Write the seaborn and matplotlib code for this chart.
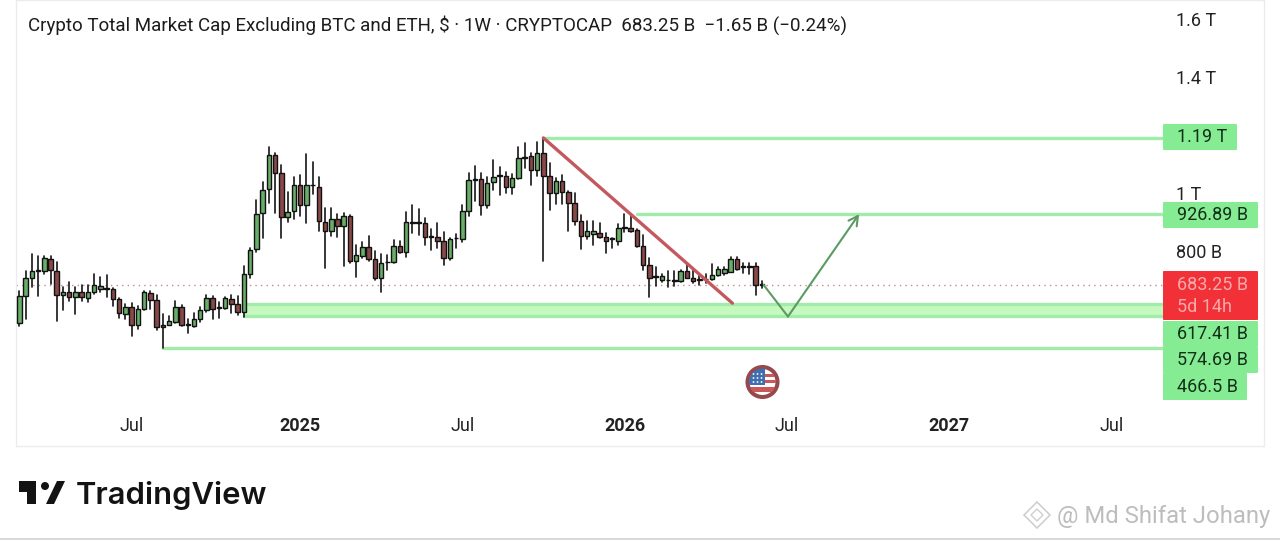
import pandas as pd
import matplotlib.pyplot as plt
from matplotlib.patches import Circle, Ellipse, FancyBboxPatch, Polygon, Rectangle
import seaborn as sns

# Weekly candles, values in billions of USD
opens = [553, 645, 708, 730, 730, 771, 731, 647, 657, 642, 657, 639, 659, 668, 672, 668, 634, 584, 607, 544,
         599, 654, 630, 545, 546, 556, 608, 545, 543, 564, 598, 637, 605, 605, 636, 617, 591, 721, 807, 930,
         1015, 1130, 1070, 918, 937, 1026, 960, 1026, 1022, 901, 870, 910, 885, 921, 767, 783, 813, 771, 708, 761,
         762, 816, 798, 900, 900, 896, 850, 849, 836, 775, 844, 842, 937, 1048, 1047, 960, 1037, 1061, 1060, 1022,
         1050, 1125, 1127, 1081, 1139, 1060, 999, 1040, 1003, 964, 904, 850, 860, 861, 848, 841, 834, 879, 878, 872,
         818, 751, 713, 700, 701, 700, 695, 731, 708, 703, 702, 703, 716, 725, 729, 772, 748, 746, 747, 684.9]
closes = [645, 706, 730, 733, 776, 733, 647, 660, 642, 659, 640, 657, 682, 679, 670, 633, 585, 607, 544, 600,
          657, 631, 539, 539, 559, 606, 544, 547, 564, 598, 637, 601, 607, 637, 618, 591, 719, 805, 926, 1012,
          1130, 1070, 918, 935, 1026, 960, 1026, 1027, 903, 870, 909, 885, 921, 765, 785, 813, 772, 708, 757, 763,
          816, 796, 901, 895, 898, 849, 848, 836, 777, 841, 846, 937, 1044, 1046, 960, 1034, 1056, 1058, 1022, 1050,
          1119, 1120, 1081, 1139, 1060, 999, 1041, 1003, 964, 904, 850, 870, 870, 848, 834, 844, 879, 882, 869, 817,
          752, 708, 710, 713, 699, 698, 731, 708, 698, 701, 705, 716, 737, 738, 772, 739, 746, 748, 684, 683.25]
highs = [662, 731, 788, 783, 783, 783, 763, 675, 693, 677, 682, 683, 721, 711, 717, 672, 638, 617, 620, 610,
         661, 661, 649, 582, 576, 626, 613, 566, 586, 608, 649, 645, 624, 642, 647, 645, 747, 811, 975, 1037,
         1160, 1137, 1096, 1004, 1054, 1062, 1134, 1106, 1055, 947, 948, 927, 932, 924, 819, 832, 852, 801, 790, 786,
         838, 834, 933, 957, 945, 913, 875, 898, 865, 846, 858, 958, 1068, 1093, 1070, 1056, 1114, 1091, 1073, 1065,
         1160, 1171, 1137, 1177, 1190, 1104, 1050, 1062, 1007, 1001, 923, 903, 904, 896, 863, 846, 892, 927, 924, 877,
         855, 775, 744, 721, 731, 732, 733, 756, 737, 715, 722, 754, 746, 746, 780, 779, 760, 760, 760, 696]
lows = [543, 565, 677, 646, 721, 686, 560, 595, 628, 584, 629, 625, 652, 659, 641, 611, 570, 564, 508, 530,
        598, 601, 528, 466.5, 544, 551, 543, 516, 539, 555, 591, 565, 570, 600, 585, 579, 574, 706, 798, 846,
        964, 931, 844, 899, 910, 921, 896, 998, 870, 742, 852, 849, 749, 760, 711, 777, 767, 700, 659, 734,
        760, 792, 780, 863, 855, 821, 803, 810, 753, 769, 809, 832, 922, 971, 923, 949, 1010, 992, 999, 996,
        1047, 1085, 1027, 1058, 767, 941, 962, 962, 870, 890, 807, 841, 821, 846, 794, 810, 819, 864, 867, 813,
        734, 642, 679, 694, 677, 679, 693, 706, 691, 683, 691, 700, 715, 717, 726, 733, 723, 721, 648, 673]

first_week = "2024-02-26"
tick_dates = ["2024-07-01", "2025-01-06", "2025-07-07", "2026-01-05", "2026-07-06", "2027-01-04", "2027-07-05"]
tick_labels = ["Jul", "2025", "Jul", "2026", "Jul", "2027", "Jul"]
price_ticks = [800, 1000, 1400, 1600]
price_labels = ["800 B", "1 T", "1.4 T", "1.6 T"]

last_price = 683.25
resistance_high = 1190
resistance_low = 926.89
zone_top = 617.41
zone_bottom = 574.69
support_low = 466.5

# Drawn trendline and the forecast path (week index, price)
trend_weeks = [84, 114.3]
trend_prices = [1190, 620]
path_weeks = [119.3, 123.2, 134.6]
path_prices = [683, 574, 927]

tag_labels = ["1.19 T", "926.89 B", "617.41 B", "574.69 B", "466.5 B"]
title = "Crypto Total Market Cap Excluding BTC and ETH, $ · 1W · CRYPTOCAP  683.25 B  −1.65 B (−0.24%)"

GREEN = "#86ec94"
LINE_GREEN = "#a0eca8"
ZONE_GREEN = "#c6f9bf"
TAG_RIGHT = 183.6  # week index where the price tags start

sns.set_theme(style="white")
plt.rcParams["font.family"] = ["Roboto", "DejaVu Sans"]

df = pd.DataFrame({"open": opens, "close": closes, "high": highs, "low": lows})
df["week"] = range(len(df))
df["bottom"] = df[["open", "close"]].min(axis=1)
df["height"] = (df["open"] - df["close"]).abs()
df["up"] = df["close"] >= df["open"]
wicks = df.melt(id_vars="week", value_vars=["high", "low"], value_name="price")

fig = plt.figure(figsize=(12.8, 5.4), dpi=100, facecolor="white")
ax = fig.add_axes([16 / 1280, 94 / 540, 1248 / 1280, 446 / 540])


def fx(x):
    return x / 1280


def fy(y):
    return 1 - y / 540


# Levels and zone
sns.lineplot(x=[-0.5, TAG_RIGHT], y=[last_price, last_price], color="#b98f8f", linewidth=1, linestyle=(0, (1, 3)), ax=ax)
ax.fill_between([36, TAG_RIGHT], zone_bottom, zone_top, color=ZONE_GREEN, linewidth=0, zorder=1)
level_lines = [(84, resistance_high), (99, resistance_low), (36, zone_top), (36, zone_bottom), (23, support_low)]
for start, level in level_lines:
    sns.lineplot(x=[start, TAG_RIGHT], y=[level, level], color=LINE_GREEN, linewidth=2.4, ax=ax)

# Candles
sns.lineplot(data=wicks, x="week", y="price", units="week", estimator=None, color="#151515", linewidth=1.2, zorder=3, ax=ax)
for is_up, face in [(True, "#68ad68"), (False, "#8a4848")]:
    part = df[df["up"] == is_up]
    sns.barplot(x=part["week"].values, y=part["height"].values, bottom=part["bottom"].values, native_scale=True,
                color=face, saturation=1, width=0.72, edgecolor="#111111", linewidth=1, errorbar=None, zorder=4, ax=ax)

# Trendline and forecast
sns.lineplot(x=trend_weeks, y=trend_prices, color="#c4585f", linewidth=2.4, zorder=5, ax=ax)
sns.lineplot(x=path_weeks[:2], y=path_prices[:2], color="#5c9a63", linewidth=1.5, zorder=5, ax=ax)
ax.annotate("", xy=(path_weeks[2], path_prices[2]), xytext=(path_weeks[1], path_prices[1]), zorder=5,
            arrowprops=dict(arrowstyle="->,head_length=0.55,head_width=0.3", color="#5c9a63", lw=1.5, shrinkA=0, shrinkB=0))

# Axes, with tick labels drawn inside the pane
ax.set_xlim(-0.53, 199.5)
ax.set_ylim(127.6, 1665.5)
ax.set_xlabel("")
ax.set_ylabel("")
week_ticks = [(pd.Timestamp(d) - pd.Timestamp(first_week)).days / 7 for d in tick_dates]
ax.set_xticks(week_ticks, tick_labels)
ax.yaxis.tick_right()
ax.set_yticks(price_ticks, price_labels)
ax.tick_params(axis="x", length=0, pad=-21, labelsize=13, labelcolor="#222222")
ax.tick_params(axis="y", length=0, pad=-63.5, labelsize=13, labelcolor="#222222")
for label in ax.get_xticklabels():
    if label.get_text().isdigit():
        label.set_fontweight("bold")
for spine in ax.spines.values():
    spine.set_color("#ececec")
    spine.set_linewidth(1)

ax.text(12 / 1248, 1 - 25 / 446, title, transform=ax.transAxes, fontsize=13.5, color="#1c1c1c", va="center", ha="left")


# Price tags on the right
def add_tag(x0, y0, x1, y1, color):
    fig.add_artist(FancyBboxPatch((fx(x0) + 0.001, fy(y1) + 0.001), fx(x1 - x0) - 0.002, (y1 - y0) / 540 - 0.002,
                                  boxstyle="round,pad=0.001", transform=fig.transFigure, facecolor=color, edgecolor="none"))


tag_boxes = [(1163, 124, 1237, 150), (1163, 202, 1258, 228), (1163, 321, 1258, 347), (1163, 347, 1258, 373), (1163, 373, 1247, 400)]
for box, text in zip(tag_boxes, tag_labels):
    add_tag(*box, GREEN)
    fig.text(fx(1177), fy((box[1] + box[3]) / 2), text, fontsize=13, color="#123018", va="center", ha="left")
add_tag(1163, 271, 1258, 320, "#f23038")
fig.text(fx(1177), fy(285), f"{last_price} B", fontsize=13, color="#f8aaaa", va="center", ha="left")
fig.text(fx(1177), fy(307), "5d 14h", fontsize=13, color="#f8aaaa", va="center", ha="left")

# Flag badge
flag = fig.add_axes([744.5 / 1280, 1 - 400 / 540, 36 / 1280, 36 / 540], facecolor="none")
flag.set_xlim(-18, 18)
flag.set_ylim(-18, 18)
flag.axis("off")
disc = Circle((0, 0), 13.5, facecolor="white", edgecolor="none")
flag.add_patch(disc)
flag.add_patch(Circle((0, 0), 15, facecolor="none", edgecolor="#96484c", linewidth=2.9))
for x0, y0, w, h, color in [(-14, -10, 28, 5, "#c8585a"), (2, -1, 12, 3, "#c8585a"), (2, 5, 12, 3, "#c8585a"), (-14, -3, 16, 17, "#3f6fb0")]:
    rect = Rectangle((x0, y0), w, h, facecolor=color, edgecolor="none")
    flag.add_patch(rect)
    rect.set_clip_path(disc)
for dot_x in (-9, -5, -1):
    for dot_y in (0, 4, 8):
        flag.add_patch(Circle((dot_x, dot_y), 0.9, facecolor="white", edgecolor="none"))

# TradingView logo
for pts in [[(19, 481), (36, 481), (36, 504), (27, 504), (27, 492), (19, 492)], [(57, 481), (65, 481), (54, 504), (46, 504)]]:
    fig.add_artist(Polygon([(fx(x), fy(y)) for x, y in pts], transform=fig.transFigure, facecolor="#131313", edgecolor="none"))
fig.add_artist(Ellipse((fx(45), fy(486)), 8 / 1280, 8 / 540, transform=fig.transFigure, facecolor="#131313", edgecolor="none"))
fig.text(fx(76), fy(495), "TradingView", fontsize=22.3, fontweight="semibold", family="Inter", color="#131313", va="center", ha="left")

# Watermark and bottom rule
for half, lw in [(13, 1.2), (6, 1.0)]:
    fig.add_artist(Polygon([(fx(1037 - half), fy(515)), (fx(1037), fy(515 - half)), (fx(1037 + half), fy(515)), (fx(1037), fy(515 + half))],
                           transform=fig.transFigure, facecolor="none", edgecolor="#cfcfcf", linewidth=lw))
fig.text(fx(1057), fy(516), "@ Md Shifat Johany", fontsize=17.2, color="#bdbdbd", va="center", ha="left")
fig.add_artist(Rectangle((0, 0), 1, 2 / 540, transform=fig.transFigure, facecolor="#d9d9d9", edgecolor="none"))

fig.savefig("out.png", dpi=100)
